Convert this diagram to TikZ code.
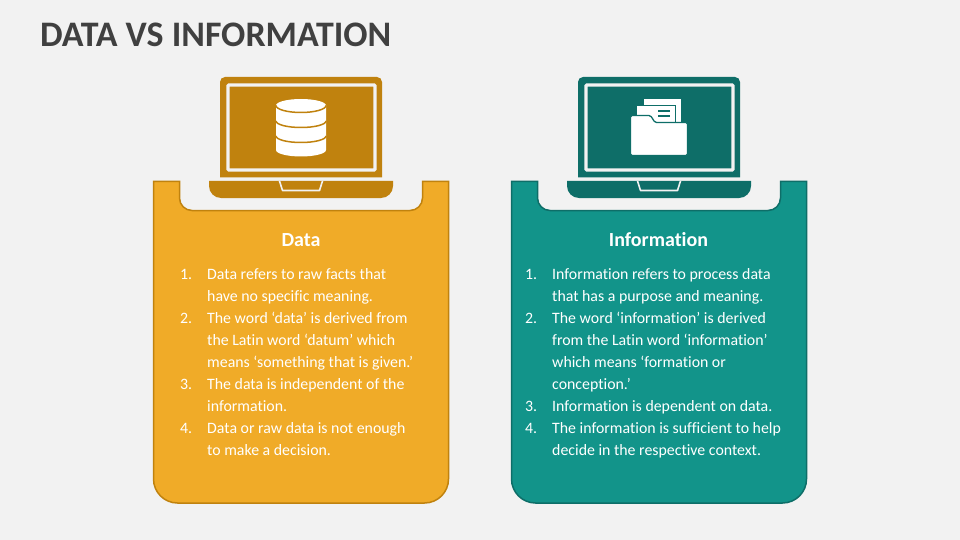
\documentclass[tikz,border=0pt]{standalone}
\usepackage{fontspec}
\setmainfont{Carlito}[Ligatures={NoCommon}]
\definecolor{bgc}{HTML}{F2F2F2}
\definecolor{ttl}{HTML}{404040}
\definecolor{orA}{HTML}{F0AB28}
\definecolor{orB}{HTML}{C0820E}
\definecolor{teA}{HTML}{12948A}
\definecolor{teB}{HTML}{0E6E68}
\tikzset{
  bodytext/.style={anchor=base west,inner sep=0pt,text=white,font=\fontsize{15.85}{17}\selectfont},
  headtext/.style={anchor=base,inner sep=0pt,text=white,font=\fontsize{20}{22}\selectfont\bfseries},
  titletext/.style={anchor=base west,inner sep=0pt,text=ttl,font=\fontsize{35.9}{40}\selectfont\bfseries}
}
\newcommand{\laptop}[3]{%
 \begin{scope}[xshift=#1pt]
  % card
  \draw[fill=#2,draw=#3,line width=1.5pt]
    (153.5,181.5) -- (179.5,181.5) -- (179.5,198) arc[start angle=180,end angle=270,x radius=12.5,y radius=-12.5]
    -- (410,210.5) arc[start angle=270,end angle=360,x radius=12.5,y radius=-12.5]
    -- (422.5,181.5) -- (448.5,181.5) -- (448.5,479) arc[start angle=0,end angle=-90,x radius=24,y radius=-24]
    -- (177.5,503) arc[start angle=270,end angle=180,x radius=24,y radius=-24] -- cycle;
  % screen
  \fill[#3] (220,177.5) -- (220,82) arc[start angle=180,end angle=90,x radius=5,y radius=-5]
    -- (377,77) arc[start angle=90,end angle=0,x radius=5,y radius=-5] -- (382,177.5) -- cycle;
  \draw[bgc,line width=3.2pt,rounded corners=1pt] (228,85) rectangle (375,170);
  % base
  \fill[#3] (209,181) -- (393,181) -- (393,186) arc[start angle=0,end angle=-90,x radius=12,y radius=-12]
    -- (221,198) arc[start angle=270,end angle=180,x radius=12,y radius=-12] -- cycle;
  \draw[bgc,line width=1.6pt,line join=round] (279.5,181) -- (282.5,190.5) -- (319.5,190.5) -- (322.5,181);
 \end{scope}}
\begin{document}
\begin{tikzpicture}[x=1pt,y=-1pt]
\useasboundingbox (0,0) rectangle (960,540);
\fill[bgc] (0,0) rectangle (960,540);
\node[titletext] (title) at (40,46.5) {DATA VS INFORMATION};
\laptop{0}{orA}{orB}
\laptop{358}{teA}{teB}
% database icon
\fill[white] (276,105.5) -- (276,150) arc[start angle=180,end angle=360,x radius=25,y radius=-6.5] -- (326,105.5) -- cycle;
\fill[white] (301,105.5) ellipse[x radius=25,y radius=6.5];
\draw[orB,line width=1.5pt] (276,105.5) arc[start angle=180,end angle=360,x radius=25,y radius=-7];
\draw[orB,line width=1.5pt] (276,121) arc[start angle=180,end angle=360,x radius=25,y radius=-6.5];
\draw[orB,line width=1.5pt] (276,136) arc[start angle=180,end angle=360,x radius=25,y radius=-6.5];
% folder icon
\fill[white] (644,99) rectangle (681,122);
\draw[teB,line width=1.3pt,fill=white] (636.3,105.7) -- (675.7,105.7) -- (675.7,123) -- (636.3,123) -- cycle;
\draw[teB,line width=1.6pt] (658,111) -- (670,111);
\draw[teB,line width=1.6pt] (658,116) -- (670,116);
\fill[white,draw=teB,line width=1.3pt,rounded corners=1.5pt] (630.5,115.5) -- (650.5,115.5) -- (655,122.5) -- (687.5,122.5) -- (687.5,155.5) -- (630.5,155.5) -- cycle;
% headings
\node[headtext] (h1) at (301,246.8) {Data};
\node[headtext] (h2) at (658.5,246.8) {Information};
% left list
\node[bodytext] (a1) at (180,279.8) {1.};
\node[bodytext] (a1a) at (207,279.8) {Data refers to raw facts that};
\node[bodytext] (a1b) at (207,301.8) {have no specific meaning.};
\node[bodytext] (a2) at (180,323.8) {2.};
\node[bodytext] (a2a) at (207,323.8) {The word ‘data’ is derived from};
\node[bodytext] (a2b) at (207,345.8) {the Latin word ‘datum’ which};
\node[bodytext] (a2c) at (207,367.8) {means ‘something that is given.’};
\node[bodytext] (a3) at (180,389.8) {3.};
\node[bodytext] (a3a) at (207,389.8) {The data is independent of the};
\node[bodytext] (a3b) at (207,411.8) {information.};
\node[bodytext] (a4) at (180,433.8) {4.};
\node[bodytext] (a4a) at (207,433.8) {Data or raw data is not enough};
\node[bodytext] (a4b) at (207,455.8) {to make a decision.};
% right list
\node[bodytext] (b1) at (525,279.8) {1.};
\node[bodytext] (b1a) at (552,279.8) {Information refers to process data};
\node[bodytext] (b1b) at (552,301.8) {that has a purpose and meaning.};
\node[bodytext] (b2) at (525,323.8) {2.};
\node[bodytext] (b2a) at (552,323.8) {The word ‘information’ is derived};
\node[bodytext] (b2b) at (552,345.8) {from the Latin word ‘information’};
\node[bodytext] (b2c) at (552,367.8) {which means ‘formation or};
\node[bodytext] (b2d) at (552,389.8) {conception.’};
\node[bodytext] (b3) at (525,411.8) {3.};
\node[bodytext] (b3a) at (552,411.8) {Information is dependent on data.};
\node[bodytext] (b4) at (525,433.8) {4.};
\node[bodytext] (b4a) at (552,433.8) {The information is sufficient to help};
\node[bodytext] (b4b) at (552,455.8) {decide in the respective context.};
\end{tikzpicture}
\end{document}
